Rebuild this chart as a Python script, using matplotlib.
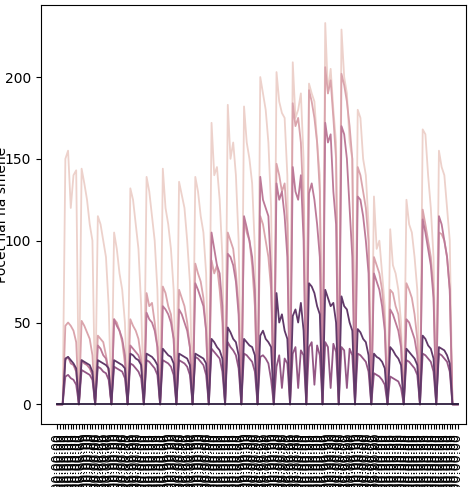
import pandas as pd
import seaborn as sns
import matplotlib
matplotlib.use("Agg")
import matplotlib.pyplot as plt

# weekly blocks: each week starts at 0 then five working values
a_weeks = [
    [150, 155, 120, 140, 143], [144, 135, 125, 110, 100], [115, 110, 100, 90, 60],
    [105, 95, 80, 70, 50], [132, 125, 110, 95, 60], [139, 130, 115, 100, 70],
    [144, 120, 110, 95, 70], [136, 128, 120, 100, 75], [139, 130, 115, 105, 80],
    [172, 140, 145, 125, 90], [183, 150, 160, 140, 100], [182, 160, 150, 135, 95],
    [200, 190, 180, 160, 120], [203, 185, 178, 175, 140], [209, 175, 180, 190, 150],
    [196, 190, 185, 160, 140], [233, 190, 205, 180, 160], [229, 200, 190, 160, 150],
    [180, 175, 150, 140, 110], [127, 95, 100, 80, 60], [107, 85, 80, 70, 50],
    [125, 110, 105, 90, 70], [168, 165, 140, 120, 90], [155, 145, 140, 120, 100],
]
b_weeks = [
    [48, 50, 48, 45, 38], [51, 48, 44, 40, 30], [42, 40, 38, 30, 20],
    [52, 50, 45, 38, 25], [52, 48, 45, 40, 28], [68, 60, 62, 50, 35],
    [72, 68, 60, 55, 40], [70, 65, 60, 50, 35], [86, 80, 75, 65, 45],
    [88, 80, 85, 70, 50], [105, 100, 95, 80, 60], [113, 105, 100, 85, 60],
    [115, 110, 100, 90, 70], [147, 140, 130, 135, 110], [184, 170, 175, 160, 120],
    [192, 185, 175, 160, 130], [206, 190, 198, 175, 150], [202, 195, 185, 170, 150],
    [145, 140, 130, 120, 100], [90, 85, 80, 70, 50], [70, 68, 60, 55, 40],
    [74, 70, 65, 55, 40], [119, 110, 100, 90, 70], [105, 104, 100, 90, 70],
]
c_weeks = [
    [27, 29, 25, 24, 20], [27, 25, 24, 22, 18], [36, 34, 30, 28, 20],
    [52, 48, 45, 40, 30], [36, 34, 32, 30, 25], [56, 52, 50, 45, 35],
    [60, 58, 55, 50, 40], [58, 55, 50, 45, 35], [74, 70, 65, 60, 45],
    [105, 95, 85, 80, 60], [92, 90, 85, 75, 55], [115, 108, 100, 90, 70],
    [139, 125, 120, 115, 80], [135, 125, 130, 115, 90], [145, 130, 125, 140, 100],
    [129, 135, 125, 110, 90], [172, 160, 165, 130, 110], [170, 165, 150, 120, 90],
    [127, 125, 115, 100, 80], [80, 75, 70, 60, 45], [58, 55, 50, 45, 35],
    [52, 50, 45, 40, 30], [113, 105, 95, 85, 65], [115, 110, 100, 90, 70],
]
e_weeks = [
    [17, 18, 16, 15, 12], [21, 20, 19, 18, 15], [23, 22, 20, 19, 15],
    [23, 22, 21, 20, 16], [25, 24, 22, 20, 16], [27, 26, 24, 22, 18],
    [27, 26, 25, 23, 18], [27, 26, 25, 23, 18], [29, 28, 26, 24, 18],
    [34, 32, 30, 28, 20], [38, 35, 33, 30, 22], [31, 30, 28, 26, 20],
    [29, 30, 28, 25, 15], [23, 30, 10, 28, 25], [31, 35, 10, 33, 30],
    [35, 38, 12, 36, 30], [38, 35, 10, 37, 32], [35, 33, 10, 34, 30],
    [31, 30, 28, 26, 20], [19, 18, 17, 15, 12], [17, 16, 15, 14, 10],
    [27, 26, 24, 22, 18], [31, 30, 28, 26, 20], [31, 30, 28, 26, 20],
]
d_weeks = [
    [28, 29, 27, 25, 22], [27, 26, 25, 24, 20], [27, 26, 25, 24, 22],
    [27, 26, 25, 24, 22], [31, 30, 28, 27, 24], [31, 30, 29, 27, 24],
    [34, 32, 30, 29, 25], [31, 30, 29, 28, 24], [31, 30, 29, 28, 25],
    [40, 38, 35, 33, 28], [47, 44, 40, 38, 30], [40, 38, 36, 35, 30],
    [42, 45, 40, 38, 35], [68, 50, 55, 45, 40], [54, 58, 50, 62, 45],
    [74, 72, 68, 60, 55], [70, 65, 60, 62, 50], [66, 60, 58, 50, 45],
    [46, 44, 40, 38, 30], [31, 29, 28, 26, 22], [35, 33, 30, 28, 24],
    [34, 32, 30, 28, 24], [42, 40, 36, 34, 28], [35, 34, 33, 30, 25],
]


def flatten(weeks):
    vals = [0, 0]
    for w in weeks:
        vals += [0] + w
    return vals + [0, 0, 0]


series = {1: flatten(a_weeks), 2: flatten(b_weeks), 3: flatten(c_weeks),
          4: flatten(e_weeks), 5: flatten(d_weeks)}
n = len(series[1])
series[6] = [0] * n
dates = pd.date_range("2021-01-01", periods=n, freq="D").strftime("%Y-%m-%d %H:%M:%S")

rows = []
for hue, vals in series.items():
    for d, v in zip(dates, vals):
        rows.append({"datum": d, "pocet": v, "smena": hue})
df = pd.DataFrame(rows)

fig = plt.figure(figsize=(4.74, 4.87), dpi=100)
ax = fig.add_axes([41 / 474, 1 - 424 / 487, 425 / 474, 419 / 487])
sns.lineplot(data=df, x="datum", y="pocet", hue="smena", legend=False, ax=ax,
             palette=sns.cubehelix_palette(6), linewidth=1.3)
ax.set_xlim(-6, n + 2)
ax.set_ylim(-12, 244)
ax.set_xlabel("")
ax.set_ylabel("Počet hal na směně", labelpad=0)
ax.yaxis.set_label_coords(-0.075, 0.5)
ax.tick_params(axis="x", rotation=90, labelsize=9)
fig.savefig("out.png", dpi=100)
